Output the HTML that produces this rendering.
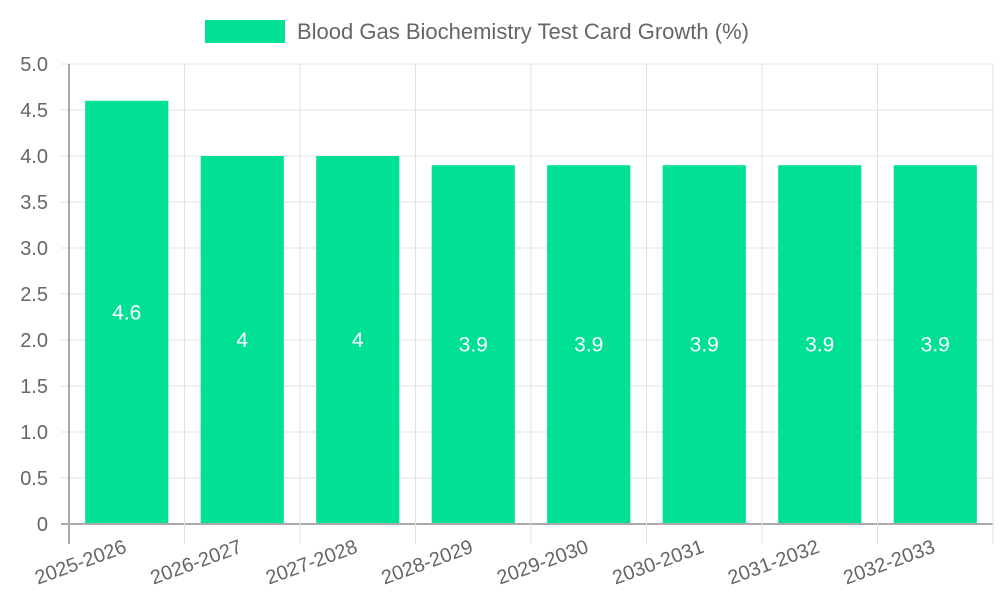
<!DOCTYPE html>
<html><head><meta charset="utf-8"><style>
body{margin:0;background:#fff;}
svg{font-family:"Liberation Sans",sans-serif;}
</style></head><body>
<svg id="c" width="1000" height="600"></svg>
<script>
const categories=["2025-2026","2026-2027","2027-2028","2028-2029","2029-2030","2030-2031","2031-2032","2032-2033"];
const values=[4.6,4,4,3.9,3.9,3.9,3.9,3.9];
const yTicks=[0,0.5,1,1.5,2,2.5,3,3.5,4,4.5,5];
const yTickLabels=["0","0.5","1.0","1.5","2.0","2.5","3.0","3.5","4.0","4.5","5.0"];
const NS="http://www.w3.org/2000/svg";
const svg=document.getElementById('c');
const L=69,R=993,T=64,B=524,yMax=5;
const bw=(R-L)/categories.length;
const y=v=>B-(v/yMax)*(B-T);
const x=i=>L+bw*i;
function mk(t,a,p){const e=document.createElementNS(NS,t);for(const k in a)e.setAttribute(k,a[k]);(p||svg).appendChild(e);return e;}
// grid
yTicks.forEach((v,i)=>{
 const g=mk('line',{x1:61,x2:R,y1:y(v),y2:y(v),stroke:i==0?'#aaa':'#e0e0e0','stroke-width':i==0?2:1});
 
 
 const t=mk('text',{x:48,y:y(v)+7,'text-anchor':'end','font-size':20,fill:'#666'});
 t.textContent=yTickLabels[i];
 
 
});
for(let i=0;i<=categories.length;i++){
 const g=mk('line',{x1:x(i),x2:x(i),y1:T,y2:544,stroke:i==0?'#aaa':'#e0e0e0','stroke-width':i==0?2:1});
 
 
}
categories.forEach((c,i)=>{
 const cx=x(i)+bw/2, w=bw*0.72;
 const r=mk('rect',{x:cx-w/2,y:y(values[i]),width:w,height:B-y(values[i])-1,fill:'#00e096'});
 
 
 const v=mk('text',{x:cx,y:(y(values[i])+B)/2+7,'text-anchor':'middle','font-size':21,fill:'#fff'});
 v.textContent=String(values[i]);
 
 
 const t=mk('text',{x:0,y:0,'text-anchor':'end','font-size':20,fill:'#666',transform:`translate(${cx+1},${552}) rotate(-20)`});
 t.textContent=c;
 
 
});
const lg=mk('g',{});


mk('rect',{x:205,y:20,width:80,height:23,fill:'#00e096'},lg);
const lt=mk('text',{x:297,y:39,'font-size':22,fill:'#666'},lg);
lt.textContent="Blood Gas Biochemistry Test Card Growth (%)";
</script>
</body></html>
